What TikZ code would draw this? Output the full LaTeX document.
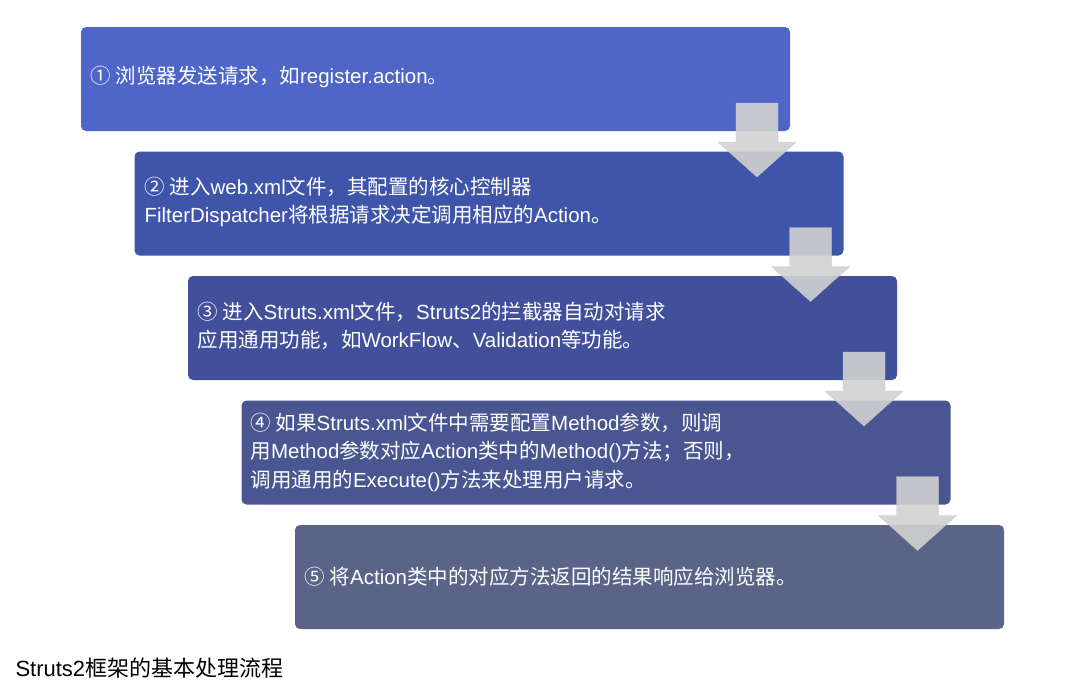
\documentclass[tikz,border=0pt]{standalone}
\usepackage{fontspec}
\setmainfont{Noto Sans CJK SC}
\newfontfamily\lat{Liberation Sans}
\newcommand{\La}[1]{{\lat #1}}
\begin{document}
\begin{tikzpicture}[x=1pt,y=-1pt,
  stepbox/.style={rounded corners=5pt,draw=none},
  txt/.style={text=white,anchor=west,align=left,font=\fontsize{20.5}{28.5}\selectfont},
  darr/.style={fill=gray!35,draw=gray!45,opacity=0.9}]
\useasboundingbox (0,0) rectangle (1075,697);
\fill[white] (0,0) rectangle (1075,697);
\definecolor{c1}{HTML}{4F66C8}
\definecolor{c2}{HTML}{3F55AA}
\definecolor{c3}{HTML}{42509C}
\definecolor{c4}{HTML}{4A5692}
\definecolor{c5}{HTML}{5A6488}
\foreach \i/\c in {0/c1,1/c2,2/c3,3/c4,4/c5}{
  \fill[stepbox,\c] (81+53.5*\i,27+124.5*\i) rectangle ++(709,104);
}
\node[txt] (t1) at (87,77) {① 浏览器发送请求，如\La{register.action}。};
\node[txt] (t2) at (141,202) {② 进入\La{web.xml}文件，其配置的核心控制器\\\La{FilterDispatcher}将根据请求决定调用相应的\La{Action}。};
\node[txt] (t3) at (194,326) {③ 进入\La{Struts.xml}文件，\La{Struts2}的拦截器自动对请求\\应用通用功能，如\La{WorkFlow}、\La{Validation}等功能。};
\node[txt] (t4) at (247,452) {④ 如果\La{Struts.xml}文件中需要配置\La{Method}参数，则调\\用\La{Method}参数对应\La{Action}类中的\La{Method()}方法；否则，\\调用通用的\La{Execute()}方法来处理用户请求。};
\node[txt] (t5) at (301,577) {⑤ 将\La{Action}类中的对应方法返回的结果响应给浏览器。};
\foreach \i in {0,1,2,3}{
  \begin{scope}[shift={(53.5*\i,124.5*\i)}]
  \path[darr] (736,103) -- (778,103) -- (778,142) -- (796,142) -- (757,177) -- (718,142) -- (736,142) -- cycle;
  \end{scope}
}
\node[anchor=west,font=\fontsize{22}{26}\selectfont] (cap) at (12,668) {\La{Struts2}框架的基本处理流程};
\end{tikzpicture}
\end{document}
